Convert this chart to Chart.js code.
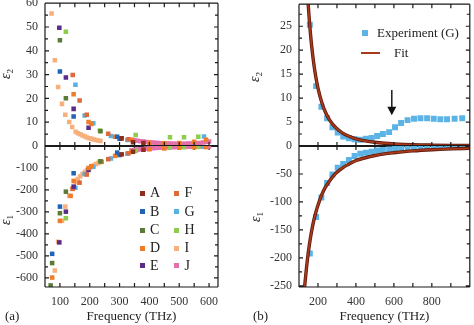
<!DOCTYPE html>
<html>
<head>
<meta charset="utf-8">
<script src="https://cdn.jsdelivr.net/npm/chart.js@4.4.0/dist/chart.umd.min.js"></script>
<style>
  body { margin: 0; background: #fff; }
  #wrap { position: relative; width: 474px; height: 325px; font-family: "Liberation Serif", serif; color: #222; overflow: hidden; }
  #wrap canvas { position: absolute; left: 0; top: 0; }
  .txt { position: absolute; white-space: nowrap; font-size: 13px; line-height: 14px; }
  .leg { position: absolute; white-space: nowrap; font-size: 14px; line-height: 14px; }
  .sq { position: absolute; width: 5px; height: 5px; }
  .ylab { position: absolute; font-size: 14px; font-style: italic; line-height: 14px; transform: translate(-50%, -50%) rotate(-90deg); }
  .ylab sub { font-size: 9px; font-style: normal; }
</style>
</head>
<body>
<div id="wrap">
  <canvas id="aTop" width="474" height="325"></canvas>
  <canvas id="aBot" width="474" height="325"></canvas>
  <canvas id="bTop" width="474" height="325"></canvas>
  <canvas id="bBot" width="474" height="325"></canvas>
  <div id="legendA"></div>
  <div class="sq" style="left:361.5px;top:29.5px;width:6px;height:6px;background:#5bb3e6"></div>
  <div class="txt" style="left:377px;top:25.5px">Experiment (G)</div>
  <div style="position:absolute;left:361px;top:51.5px;width:19px;height:2.4px;background:#a8391b"></div>
  <div class="txt" style="left:394px;top:45.5px">Fit</div>
  <div class="ylab" style="left:8px;top:74px">ε<sub>2</sub></div>
  <div class="ylab" style="left:8px;top:220px">ε<sub>1</sub></div>
  <div class="ylab" style="left:257px;top:77px">ε<sub>2</sub></div>
  <div class="ylab" style="left:258px;top:217px">ε<sub>1</sub></div>
  <div class="txt" style="left:5px;top:309px">(a)</div>
  <div class="txt" style="left:253px;top:309px">(b)</div>
</div>
<script>
// panel (a): ten samples, eps2 on top, eps1 below
const seriesNames = ['A', 'B', 'C', 'D', 'E', 'F', 'G', 'H', 'I', 'J'];
const seriesColors = ['#8c2d1e', '#1f64b5', '#5a7b37', '#f07c28', '#5b2b88', '#e0693a', '#58b1e3', '#8dcc4c', '#f7b07c', '#e46faa'];

const freqA = [307, 345, 380];
const eps2A = [3.2, 1.6, 1.3];
const eps1A = [-38, -26, -17];

const freqB = [74, 100, 146, 292, 300];
const eps2B = [null, 31.3, 12.4, 3.9, 3.1];
const eps1B = [-491, -276, -124, -30, -41];

const freqC = [69, 74, 100, 120, 236];
const eps2C = [null, null, 44.4, 20.1, 6.2];
const eps1C = [-635, -533, -306, -208, -70];

const freqD = [74, 100, 136, 146, 196, 205, 240, 285, 342, 400, 450, 500, 550, 590];
const eps2D = [null, null, null, 21.7, 10.1, 9.2, null, 3.9, 2.5, 1.4, 1.2, 1.3, 1.8, 2.6];
const eps1D = [-599, -341, -227, -159, -100, -92, -72, -45, -26, -15, -11, -8, -6, -5];

const freqE = [98, 120, 146, 196];
const eps2E = [49.7, 28.8, 15.6, 7.7];
const eps1E = [-439, -299, -185, -109];

const freqF = [143, 166, 190, 262, 330];
const eps2F = [29.8, 19.1, 13.1, 5.1, 2.8];
const eps1F = [-195, -167, -130, -60, -33];

const freqG = [152, 183, 212, 271, 326, 583];
const eps2G = [25.7, 12.8, 9.6, 4.2, 2.5, 4.0];
const eps1G = [-190, -128, -95, -57, -35, -3];

const freqH = [120, 234, 354, 469, 516, 564];
const eps2H = [48.0, 6.5, 4.6, 3.7, 3.7, 3.9];
const eps1H = [-329, -70, -22, -6, -5, -4];

const freqI = [72, 83, 94, 107, 118, 131, 141, 153, 160, 168, 176, 184, 191, 199, 206, 214, 221, 229, 236];
const eps2I = [55.7, 36.0, 24.8, 17.7, 13.1, 10.1, 8.0, 6.0, 5.4, 4.9, 4.4, 4.0, 3.6, 3.3, 3.0, 2.7, 2.5, 2.3, 2.1];
const eps1I = [null, -567, -436, -341, -276, -227, -195, -165, -150, -138, -127, -118, -109, -101, -94, -88, -82, -77, -72];

const freqJ = [340, 350, 360, 370, 380, 390, 400, 410, 420, 430, 440, 450, 460, 470, 480, 490, 500, 510, 520, 530, 540, 550, 560, 570, 580, 590, 600];
const eps2J = [2.6, 2.4, 2.2, 2.0, 1.9, 1.7, 1.6, 1.5, 1.4, 1.3, 1.2, 1.1, 1.0, 1.0, 0.9, 0.9, 0.9, 0.9, 0.9, 1.0, 1.0, 1.1, 1.2, 1.3, 1.5, 1.7, 1.9];
const eps1J = [-20, -18, -16, -15, -14, -12, -11, -10, -9, -8, -8, -7, -6, -6, -5, -5, -4, -4, -4, -3, -3, -3, -3, -2, -2, -2, -2];

// panel (b): experiment G and the fit
const expFreq = [157, 190, 218, 248, 276, 304, 333, 363, 393, 423, 453, 483, 512, 542, 575, 606, 638, 672, 706, 740, 775, 810, 845, 880, 920, 960];
const expEps2 = [25.3, 12.5, 8.2, 5.8, 3.9, 2.8, 2.0, 1.6, 1.4, 1.3, 1.5, 1.7, 2.1, 2.5, 2.9, 3.9, 4.8, 5.4, 5.7, 5.8, 5.8, 5.7, 5.6, 5.6, 5.7, 5.8];
const expEps1 = [-192, -127, -92, -66, -51, -39, -32, -25, -18, -14, -12, -10, -8, -7, -6, -5, -4, -4, -3, -3, -2, -2, -2, -2, -2, -1];

const fitFreq2 = [140, 150, 160, 170, 180, 190, 200, 220, 240, 260, 280, 300, 330, 360, 400, 450, 500, 550, 600, 700, 800, 900, 1000];
const fitEps2 = [35.3, 28.7, 23.6, 19.7, 16.6, 14.1, 12.1, 9.1, 7.0, 5.5, 4.4, 3.6, 2.7, 2.1, 1.5, 1.06, 0.77, 0.58, 0.45, 0.28, 0.19, 0.13, 0.1];
const fitFreq1 = [125, 130, 140, 150, 160, 170, 180, 190, 200, 220, 240, 260, 280, 300, 330, 360, 400, 450, 500, 550, 600, 700, 800, 900, 1000];
const fitEps1 = [-270, -250, -216, -188, -165, -146, -130, -117, -106, -87, -73, -63, -54, -47, -39, -33, -26, -21, -17, -14, -12, -8.7, -6.6, -5.2, -4.2];

// arrow marking the interband onset
const arrowFreq = 589;
const arrowFrom = 11.7;
const arrowTo = 6.4;

// tick labels
const aXTicks = [100, 200, 300, 400, 500, 600];
const aTopYTicks = [0, 10, 20, 30, 40, 50, 60];
const aBotYTicks = [-600, -500, -400, -300, -200, -100];
const bXTicks = [200, 400, 600, 800];
const bTopYTicks = [0, 5, 10, 15, 20, 25];
const bBotYTicks = [-250, -200, -150, -100, -50];

const leftSeries = [
  [freqA, eps2A, eps1A], [freqB, eps2B, eps1B], [freqC, eps2C, eps1C], [freqD, eps2D, eps1D], [freqE, eps2E, eps1E],
  [freqF, eps2F, eps1F], [freqG, eps2G, eps1G], [freqH, eps2H, eps1H], [freqI, eps2I, eps1I], [freqJ, eps2J, eps1J]
];

Chart.defaults.font.family = 'Liberation Serif';
Chart.defaults.color = '#222';

const isStep = (v, step) => Math.abs(v / step - Math.round(v / step)) < 1e-6;
const pts = (xs, ys) => xs.map((x, i) => ({ x: x, y: ys[i] })).filter(p => p.y !== null);

const framePlugin = {
  id: 'frame',
  afterDatasetsDraw(chart, args, o) {
    const { ctx, chartArea: a, scales: { x, y } } = chart;
    ctx.save();
    ctx.strokeStyle = '#1a1a1a';
    ctx.lineWidth = 1.2;
    ctx.beginPath();
    ctx.moveTo(a.left, a.top); ctx.lineTo(a.left, a.bottom);
    ctx.moveTo(a.right, a.top); ctx.lineTo(a.right, a.bottom);
    if (o.top) { ctx.moveTo(a.left, a.top); ctx.lineTo(a.right, a.top); }
    else { ctx.moveTo(a.left, a.bottom); ctx.lineTo(a.right, a.bottom); }

    for (let v = Math.ceil(x.min / o.xMinor) * o.xMinor; v < x.max; v += o.xMinor) {
      if (v <= x.min) continue;
      const px = x.getPixelForValue(v);
      if (o.top) {
        ctx.moveTo(px, a.top); ctx.lineTo(px, a.top + 4);
        ctx.moveTo(px, a.bottom - 4); ctx.lineTo(px, a.bottom + 4);
      } else {
        ctx.moveTo(px, a.bottom); ctx.lineTo(px, a.bottom - 4);
      }
    }
    for (let v = Math.ceil(y.min / o.yMinor) * o.yMinor; v < y.max; v += o.yMinor) {
      if (v <= y.min) continue;
      const py = y.getPixelForValue(v);
      const len = isStep(v, o.yMajor) ? 4 : 3;
      ctx.moveTo(a.left, py); ctx.lineTo(a.left + len, py);
      ctx.moveTo(a.right, py); ctx.lineTo(a.right - len, py);
    }
    ctx.stroke();

    if (o.top) {
      ctx.lineWidth = 2;
      ctx.beginPath();
      ctx.moveTo(a.left, a.bottom); ctx.lineTo(a.right, a.bottom);
      ctx.stroke();
    }

    if (o.arrow) {
      const px = x.getPixelForValue(o.arrow.x);
      const y0 = y.getPixelForValue(o.arrow.from);
      const y1 = y.getPixelForValue(o.arrow.to);
      ctx.lineWidth = 1.5;
      ctx.beginPath();
      ctx.moveTo(px, y0); ctx.lineTo(px, y1 - 6);
      ctx.stroke();
      ctx.fillStyle = '#111';
      ctx.beginPath();
      ctx.moveTo(px - 4.5, y1 - 8.5); ctx.lineTo(px + 4.5, y1 - 8.5); ctx.lineTo(px, y1);
      ctx.closePath();
      ctx.fill();
    }
    ctx.restore();
  }
};

function makeChart(id, cfg) {
  return new Chart(document.getElementById(id), {
    type: 'scatter',
    data: { datasets: cfg.datasets },
    options: {
      responsive: false,
      animation: false,
      layout: { padding: cfg.padding },
      plugins: { legend: { display: false }, tooltip: { enabled: false }, frame: cfg.frame },
      scales: {
        x: {
          type: 'linear', min: cfg.xMin, max: cfg.xMax, display: cfg.showX,
          grid: { display: false, drawTicks: false },
          border: { display: false },
          ticks: { padding: 8, maxRotation: 0, autoSkip: false, font: { size: 12 }, color: '#333' },
          title: { display: cfg.showX, text: 'Frequency (THz)', font: { size: 13 }, padding: { top: 0, bottom: 1 }, color: '#222' },
          afterBuildTicks: s => { s.ticks = cfg.xTicks.map(v => ({ value: v })); },
          afterFit: s => { if (cfg.showX) s.height = 38; s.paddingLeft = 0; s.paddingRight = 0; }
        },
        y: {
          type: 'linear', min: cfg.yMin, max: cfg.yMax,
          grid: { display: false, drawTicks: false },
          border: { display: false },
          ticks: { padding: 7, autoSkip: false, font: { size: 12 }, color: '#333' },
          afterBuildTicks: s => { s.ticks = cfg.yTicks.map(v => ({ value: v })); },
          afterFit: s => { s.width = 45; s.paddingTop = 0; s.paddingBottom = 0; }
        }
      }
    },
    plugins: [framePlugin]
  });
}

const scatterSet = (data, color, r) => ({
  data: data, backgroundColor: color, borderWidth: 0,
  pointStyle: 'rect', pointRadius: r, pointHoverRadius: r
});
const fitSets = (data) => [
  { data: data, showLine: true, borderColor: '#a8391b', borderWidth: 1.8, pointRadius: 0, cubicInterpolationMode: 'monotone' },
  { data: data, showLine: true, borderColor: '#5c1a0c', borderWidth: 3.4, pointRadius: 0, cubicInterpolationMode: 'monotone' }
];

// panel (a)
makeChart('aTop', {
  datasets: leftSeries.map((s, i) => scatterSet(pts(s[0], s[1]), seriesColors[i], 3.2)),
  padding: { left: 0, right: 256, top: 3, bottom: 179 },
  xMin: 50, xMax: 630, xTicks: aXTicks, showX: false,
  yMin: 0, yMax: 60, yTicks: aTopYTicks,
  frame: { top: true, xMinor: 50, yMinor: 5, yMajor: 10 }
});
makeChart('aBot', {
  datasets: leftSeries.map((s, i) => scatterSet(pts(s[0], s[2]), seriesColors[i], 3.2)),
  padding: { left: 0, right: 256, top: 146, bottom: 0 },
  xMin: 50, xMax: 630, xTicks: aXTicks, showX: true,
  yMin: -642, yMax: 0, yTicks: aBotYTicks,
  frame: { top: false, xMinor: 50, yMinor: 50, yMajor: 100 }
});

// panel (b)
makeChart('bTop', {
  datasets: [...fitSets(pts(fitFreq2, fitEps2)), scatterSet(pts(expFreq, expEps2), '#5bb3e6', 4.2)],
  padding: { left: 254, right: 2, top: 2, bottom: 179 },
  xMin: 100, xMax: 1000, xTicks: bXTicks, showX: false,
  yMin: 0, yMax: 29.6, yTicks: bTopYTicks,
  frame: { top: true, xMinor: 100, yMinor: 2.5, yMajor: 5, arrow: { x: arrowFreq, from: arrowFrom, to: arrowTo } }
});
makeChart('bBot', {
  datasets: [...fitSets(pts(fitFreq1, fitEps1)), scatterSet(pts(expFreq, expEps1), '#5bb3e6', 4.2)],
  padding: { left: 254, right: 2, top: 146, bottom: 0 },
  xMin: 100, xMax: 1000, xTicks: bXTicks, showX: true,
  yMin: -252, yMax: 0, yTicks: bBotYTicks,
  frame: { top: false, xMinor: 100, yMinor: 25, yMajor: 50 }
});

// legend for panel (a), two columns
const legendA = document.getElementById('legendA');
const rowY = [193.3, 211.7, 230, 248.3, 265.7];
seriesNames.forEach((name, i) => {
  const col = Math.floor(i / 5), row = i % 5;
  const sqLeft = col === 0 ? 139.5 : 173.5;
  const txtLeft = col === 0 ? 150 : 184.5;
  legendA.innerHTML += `
    <div class="sq" style="left:${sqLeft}px;top:${rowY[row] - 2.5}px;background:${seriesColors[i]}"></div>
    <div class="leg" style="left:${txtLeft}px;top:${rowY[row] - 7}px">${name}</div>`;
});
</script>
</body>
</html>
